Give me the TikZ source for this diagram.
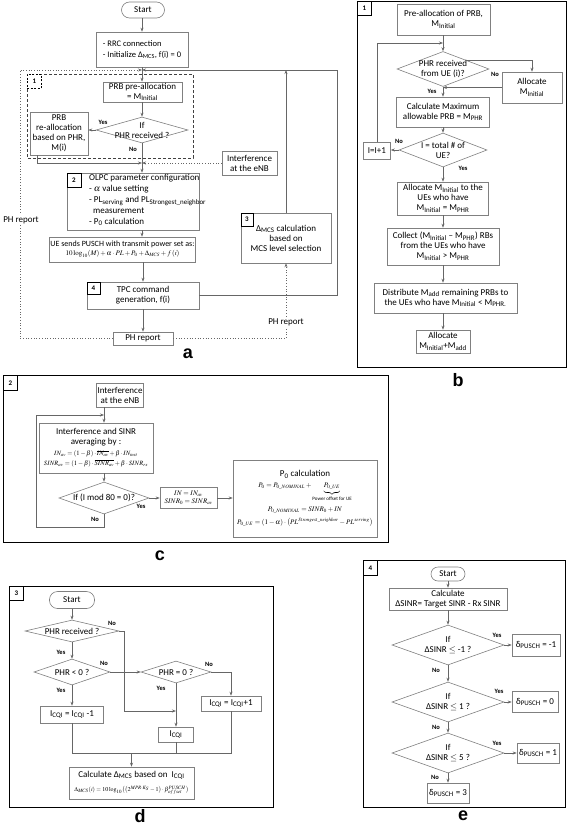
\documentclass[tikz,border=0pt]{standalone}
\usepackage{amsmath}
\usepackage{mathptmx}
\usepackage{fontspec}
\setmainfont{Carlito}
\newfontfamily\labfont{Liberation Sans}
\usetikzlibrary{arrows.meta,shapes.geometric,calc}
\definecolor{boxc}{gray}{0.5}
\definecolor{linec}{gray}{0.4}
\newcommand{\fs}{\fontsize{9}{10}\selectfont}
\newcommand{\fsm}{\fontsize{8}{9}\selectfont}
\newcommand{\fmath}{\fontsize{7}{8}\selectfont}
\newcommand{\sbs}[1]{\textsubscript{#1}}
\begin{document}
\begin{tikzpicture}[x=1pt,y=-1pt,>={Stealth[length=4pt,width=3pt]},
 box/.style={draw=boxc,line width=0.6pt,fill=white,align=center,inner sep=1pt,font=\fs},
 dia/.style={diamond,draw=boxc,line width=0.6pt,inner sep=0pt,fill=white},
 ln/.style={draw=linec,line width=0.6pt},
 arr/.style={ln,->},
 dotl/.style={draw=linec,line width=0.7pt,dotted},
 panel/.style={draw=black,line width=1pt},
 tag/.style={draw=black,line width=0.6pt,fill=white,font=\fontsize{7}{7}\selectfont\bfseries,minimum width=14pt,minimum height=14pt,anchor=north west,inner sep=0pt},
 yn/.style={font=\fontsize{6.5}{7}\selectfont\bfseries,inner sep=0pt},
 dtext/.style={font=\fs,align=center,inner sep=0pt},
 plab/.style={font=\labfont\bfseries\fontsize{18}{18}\selectfont,inner sep=0pt},
 hlab/.style={fill=white,font=\fs,inner sep=1pt}]
\useasboundingbox (0,0) rectangle (567,827);

% ================= Panel a =================
\node[box,rounded corners=8pt,minimum width=43,minimum height=16] (aStart) at (143,10) {Start};
\node[box,minimum width=92,minimum height=35,align=left,font=\fontsize{8.5}{11}\selectfont] (aRRC) at (142,49.5) {- RRC connection\\- Initialize Δ\sbs{MCS}, f(i) = 0};
\coordinate (jTop) at (142,70);
\draw[arr] (aStart.south -| jTop) -- (aRRC.north -| jTop);
\draw[black!75,line width=0.7pt,dash pattern=on 3pt off 2pt] (27,74) rectangle (193,158);
\node[tag,dash pattern=on 2pt off 1.5pt] (t1a) at (27,74) {1};
\node[box,minimum width=79,minimum height=19] (aPRB) at (142.5,92) {PRB pre-allocation\\= M\sbs{Initial}};
\draw[arr] (aRRC.south -| jTop) -- (aPRB.north -| jTop);
\node[dia,minimum width=92,minimum height=26] (aD) at (142,130) {};
\node[dtext] at (aD) {If\\PHR received ?};
\draw[arr] (aPRB.south -| aD) -- (aD.north);
\node[box,minimum width=58,minimum height=43] (aRe) at (59,133.5) {PRB\\re-allocation\\based on PHR,\\M(i)};
\draw[arr] (aD.west) -- (aD.west -| aRe.east);
\node[yn] at (103,122) {Yes};
\node[yn] at (133,149) {No};
\coordinate (jA2) at (142,163);
\draw[ln] (aD.south) -- (jA2);
\draw[arr] ($(aRe.south west)+(8,0)$) |- (jA2);
\node[box,minimum width=55,minimum height=24] (aInt) at (249.5,163) {Interference\\at the eNB};
\draw[dotl,->] (aInt.west) -- (jA2);
\node[box,minimum width=132,minimum height=57] (aB2) at (133,201.5) {};
\node[tag] (t2a) at (aB2.north west) {2};
\node[font=\fontsize{9}{11}\selectfont,align=left,anchor=north west,inner sep=0pt] (aB2t) at (89,174) {OLPC parameter configuration\\- $\alpha$ value setting\\- PL\sbs{serving} and PL\sbs{Strongest\_neighbor}\\\hspace*{4pt}measurement\\- P\sbs{0} calculation};
\draw[arr] (jA2) -- (jA2 |- aB2.north);
\node[box,minimum width=145,minimum height=25,font=\fsm] (aUE) at (122.5,249.5) {UE sends PUSCH with transmit power set as:\\ \fmath $10\log_{10}(M)+\alpha\cdot PL+P_0+\Delta_{MCS}+f\left(i\right)$};
\draw[arr] (aB2.south -| jA2) -- (aUE.north -| jA2);
\node[box,minimum width=112,minimum height=27] (aTPC) at (143,295.5) {TPC command\\generation, f(i)};
\node[tag,minimum width=13pt,minimum height=12pt] (t4a) at (aTPC.north west) {4};
\draw[arr] (aUE.south -| aTPC) -- (aTPC.north);
\node[box,minimum width=60,minimum height=13] (aPH) at (143,338.5) {PH report};
\draw[arr] (aTPC.south) -- (aPH.north);
\coordinate (aL1) at (20,338.5);
\coordinate (aL2) at (20,70);
\draw[dotl,->] (aPH.west) -- (aL1) -- (aL2) -- (jTop);
\node[hlab] (aPHl) at (21,220) {PH report};
\node[box,minimum width=90,minimum height=50] (aB3) at (286,238) {Δ\sbs{MCS} calculation\\based on\\MCS level selection};
\node[tag,minimum width=12pt,minimum height=13pt] (t3a) at (aB3.north west) {3};
\draw[arr] (aB3.north) -- (aB3.north |- jTop);
\coordinate (aR1) at (337,295.5);
\coordinate (aR2) at (337,70);
\draw[arr] (aTPC.east) -- (aR1) -- (aR2) -- (jTop);
\coordinate (aR3) at (286,338.5);
\draw[dotl,->] (aPH.east) -- (aR3) -- (aB3.south);
\node[hlab] (aPHr) at (286,322) {PH report};
\node[plab] (la) at (188,354) {a};

% ================= Panel b =================
\draw[panel] (357,1) rectangle (566,367);
\node[tag] (t1b) at (357,1) {1};
\node[box,minimum width=93,minimum height=31] (bPre) at (443.5,19.5) {Pre-allocation of PRB,\\M\sbs{Initial}};
\coordinate (bJ) at (443,43);
\node[dia,minimum width=92,minimum height=35] (bD) at (443,69) {};
\node[dtext] at (bD) {PHR received\\from UE (i)?};
\draw[arr] (bPre.south -| bD) -- (bD.north);
\node[box,minimum width=60,minimum height=31] (bAl) at (532,87.5) {Allocate\\M\sbs{Initial}};
\draw[arr] (bD.north east) -| (bAl.north);
\node[yn] at (495,74) {No};
\node[box,minimum width=93,minimum height=30] (bCalc) at (443,112) {Calculate Maximum\\allowable PRB = M\sbs{PHR}};
\draw[arr] (bD.south) -- (bCalc.north);
\draw[arr] (bAl.west) -- (bAl.west -| bD.south);
\node[yn] at (432,91) {Yes};
\node[dia,minimum width=88,minimum height=34] (bD2) at (443,150) {};
\node[dtext] at (bD2) {I = total \# of\\UE?};
\draw[arr] (bCalc.south) -- (bD2.north);
\node[box,minimum width=27,minimum height=17] (bInc) at (377,151) {I=I+1};
\draw[arr] (bD2.west) -- (bD2.west -| bInc.east);
\node[yn] at (399,141) {No};
\node[yn] at (463,168) {Yes};
\coordinate (bL1) at (377,43);
\draw[arr] (bInc.north) -- (bL1) -- (bJ);
\node[box,minimum width=91,minimum height=33] (bA2) at (443,198.5) {Allocate M\sbs{Initial} to the\\UEs who have\\M\sbs{Initial} = M\sbs{PHR}};
\draw[arr] (bD2.south) -- (bA2.north);
\node[box,minimum width=112,minimum height=37] (bColl) at (443,246.5) {Collect (M\sbs{Initial} – M\sbs{PHR}) RBs\\from the UEs who have\\M\sbs{Initial} > M\sbs{PHR}};
\draw[arr] (bA2.south) -- (bColl.north);
\node[box,minimum width=143,minimum height=30] (bDist) at (445.5,298) {Distribute M\sbs{add} remaining PRBs to\\the UEs who have M\sbs{Initial} < M\sbs{PHR.}};
\draw[arr] (bColl.south) -- (bColl.south |- bDist.north);
\node[box,minimum width=54,minimum height=23] (bFin) at (443,341.5) {Allocate\\M\sbs{Initial}+M\sbs{add}};
\draw[arr] (bFin.north |- bDist.south) -- (bFin.north);
\node[plab] (lb) at (458,380) {b};

% ================= Panel c =================
\draw[panel] (3,375) rectangle (388,542);
\node[tag,minimum height=15pt] (t2c) at (3,375) {2};
\node[box,minimum width=46,minimum height=24] (cInt) at (120,395) {Interference\\at the eNB};
\coordinate (cJ) at (104,415);
\node[box,minimum width=114,minimum height=50] (cS) at (96,448) {Interference and SINR\\averaging by :\\[1pt]
 \fontsize{6.5}{8}\selectfont $IN_{av}=\left(1-\beta\right)\cdot\overline{IN_{av}}+\beta\cdot IN_{inst}$\\
 \fontsize{6.5}{8}\selectfont $SINR_{av}=\left(1-\beta\right)\cdot\overline{SINR_{av}}+\beta\cdot SINR_{rx}$};
\draw[arr] (cInt.south -| cJ) -- (cS.north -| cJ);
\node[dia,minimum width=90,minimum height=32] (cD) at (104,498) {};
\node[dtext] at (cD) {If (I mod 80 = 0)?};
\draw[arr] (cS.south -| cD) -- (cD.north);
\node[yn] at (141,506) {Yes};
\node[yn] at (95,519) {No};
\coordinate (cL1) at (104,527);
\coordinate (cL2) at (36,527);
\coordinate (cL3) at (36,415);
\draw[arr] (cD.south) -- (cL1) -- (cL2) -- (cL3) -- (cJ);
\node[box,minimum width=57,minimum height=21,font=\fmath] (cIN) at (188.5,498) {$IN=IN_{av}$\\$SINR_0=SINR_{av}$};
\draw[arr] (cD.east) -- (cIN.west);
\node[box,minimum width=144,minimum height=77] (cP) at (305,498.5) {P\sbs{0} calculation\\[1pt]
 \fmath $P_0=P_{0\_NOMINAL}+\underbrace{P_{0\_UE}}_{\text{Power offset for UE}}$\\[4pt]
 \fmath $P_{0\_NOMINAL}=SINR_0+IN$\\[3pt]
 \fmath $P_{0\_UE}=\left(1-\alpha\right)\cdot\left(PL^{Strongest\_neighbor}-PL^{serving}\right)$};
\draw[arr] (cIN.east) -- (cIN.east -| cP.west);
\node[plab] (lc) at (160,556) {c};

% ================= Panel d =================
\draw[panel] (9,586) rectangle (273,807);
\node[tag] (t3d) at (9,586) {3};
\node[box,rounded corners=8pt,minimum width=45,minimum height=17] (dStart) at (72,600) {Start};
\node[dia,minimum width=94,minimum height=22] (dD1) at (72,631) {};
\node[dtext] at (dD1) {PHR received ?};
\draw[arr] (dStart.south) -- (dD1.north);
\node[yn] at (112,623) {No};
\node[yn] at (61,652) {Yes};
\node[dia,minimum width=76,minimum height=26] (dD2) at (72,672) {};
\node[dtext] at (dD2) {PHR < 0 ?};
\draw[arr] (dD1.south) -- (dD2.north);
\node[yn] at (104,663) {No};
\node[yn] at (61,690) {Yes};
\node[dia,minimum width=70,minimum height=22] (dD3) at (176,672) {};
\node[dtext] at (dD3) {PHR = 0 ?};
\draw[arr] (dD2.east) -- (dD3.west);
\node[yn] at (209,664) {No};
\node[yn] at (161,688) {Yes};
\node[box,minimum width=63,minimum height=17] (dDec) at (72,714.5) {I\sbs{CQI} = I\sbs{CQI} -1};
\draw[arr] (dD2.south) -- (dDec.north);
\node[box,minimum width=60,minimum height=15] (dInc) at (231,703.5) {I\sbs{CQI} = I\sbs{CQI}+1};
\coordinate (dR1) at (231,672);
\draw[arr] (dD3.east) -- (dR1) -- (dInc.north);
\node[box,minimum width=35,minimum height=15] (dI) at (176,734.5) {I\sbs{CQI}};
\draw[arr] (dD3.south) -- (dI.north);
\coordinate (dV1) at (124,631);
\coordinate (dV2) at (124,711);
\draw[arr] (dD1.east) -- (dV1) -- (dV2) -- (dV2 -| dI.north);
\coordinate (dMy) at (0,753);
\node[box,minimum width=125,minimum height=32] (dCalc) at (131.5,783) {Calculate Δ\sbs{MCS} based on \ I\sbs{CQI}\\[4pt]
 \fontsize{6}{7}\selectfont $\Delta_{MCS}(i)=10\log_{10}\bigl(\bigl(2^{MPR\cdot K_S}-1\bigr)\cdot\beta_{offset}^{PUSCH}\bigr)$};
\draw[ln] (dDec.south) -- (dDec.south |- dMy) -- (dInc.south |- dMy) -- (dInc.south);
\draw[ln] (dI.south) -- (dI.south |- dMy);
\draw[arr] (dCalc.north |- dMy) -- (dCalc.north);
\node[plab] (ld) at (140,816) {d};

% ================= Panel e =================
\draw[panel] (363,560) rectangle (565,807);
\node[tag,minimum height=15pt] (t4e) at (363,560) {4};
\node[box,rounded corners=7pt,minimum width=34,minimum height=14] (eStart) at (448,574) {Start};
\node[box,minimum width=118,minimum height=22] (eCalc) at (448,599) {Calculate\\ΔSINR= Target SINR - Rx SINR};
\draw[arr] (eStart.south) -- (eCalc.north);
\node[dia,minimum width=112,minimum height=40] (eD1) at (448,645) {};
\node[dtext] at (eD1) {If\\ΔSINR $\leq$ -1 ?};
\draw[arr] (eCalc.south) -- (eD1.north);
\node[box,minimum width=48,minimum height=22] (eR1) at (536,645) {δ\sbs{PUSCH} = -1};
\draw[arr] (eD1.east) -- (eR1.west);
\node[yn] at (497,635) {Yes};
\node[yn] at (436,670) {No};
\node[dia,minimum width=112,minimum height=40] (eD2) at (448,702) {};
\node[dtext] at (eD2) {If\\ΔSINR $\leq$ 1 ?};
\draw[arr] (eD1.south) -- (eD2.north);
\node[box,minimum width=46,minimum height=21] (eR2) at (535,702) {δ\sbs{PUSCH} = 0};
\draw[arr] (eD2.east) -- (eR2.west);
\node[yn] at (499,691) {Yes};
\node[yn] at (436,727) {No};
\node[dia,minimum width=112,minimum height=40] (eD3) at (448,753) {};
\node[dtext] at (eD3) {If\\ΔSINR $\leq$ 5 ?};
\draw[arr] (eD2.south) -- (eD3.north);
\node[box,minimum width=42,minimum height=20] (eR3) at (538,753) {δ\sbs{PUSCH} = 1};
\draw[arr] (eD3.east) -- (eR3.west);
\node[yn] at (497,743) {Yes};
\node[yn] at (435,777) {No};
\node[box,minimum width=42,minimum height=20] (eR4) at (448,793) {δ\sbs{PUSCH} = 3};
\draw[arr] (eD3.south) -- (eR4.north);
\node[plab] (le) at (463,816) {e};
\end{tikzpicture}
\end{document}
